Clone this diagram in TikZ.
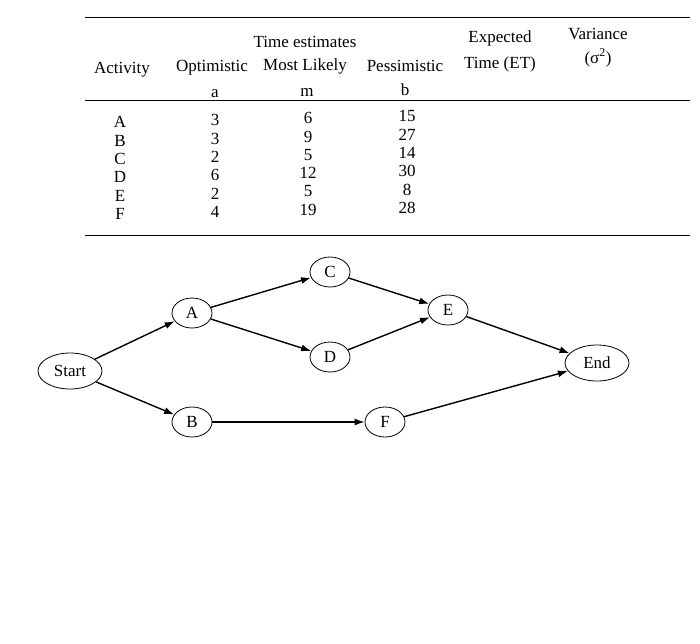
\documentclass[tikz,border=0pt]{standalone}
\usepackage{fontspec}
\setmainfont{Liberation Serif}
\usetikzlibrary{arrows.meta,shapes.geometric}
\begin{document}
\begin{tikzpicture}[x=1pt,y=-1pt,font=\fontsize{17}{19}\selectfont,
  ev/.style={draw,thick,ellipse,minimum width=40pt,minimum height=30pt,inner sep=1pt,fill=white},
  big/.style={ev,minimum width=64pt,minimum height=36pt},
  arr/.style={line width=1.4pt,-{Latex[length=10pt,width=7pt]}}]
\useasboundingbox[fill=white] (0,0) rectangle (700,643);
\draw[thick] (85,17) -- (690,17);
\draw[thick] (85,100) -- (690,100);
\draw[thick] (85,235) -- (690,235);
\node (h1) at (305,42) {Time estimates};
\node (h2) at (500,38) {Expected};
\node (h3) at (598,34) {Variance};
\node (h4) at (598,58) {(σ\textsuperscript{2})};
\node (h5) at (122,70) {Activity};
\node (h6) at (212,68) {Optimistic};
\node (h7) at (305,66) {Most Likely};
\node (h8) at (405,66) {Pessimistic};
\node (h9) at (500,64) {Time (ET)};
\node (sa) at (215,94) {a};
\node (sm) at (307,92) {m};
\node (sb) at (405,90) {b};
\foreach \l/\a/\m/\b [count=\i] in {A/3/6/15,B/3/9/27,C/2/5/14,D/6/12/30,E/2/5/8,F/4/19/28}{
  \node (r\i) at (120,104+18.3*\i) {\l};
  \node (ra\i) at (215,102+18.3*\i) {\a};
  \node (rm\i) at (308,100+18.3*\i) {\m};
  \node (rb\i) at (407,98+18.3*\i) {\b};
}
\node[big] (S) at (70,371) {Start};
\node[ev] (A) at (192,313) {A};
\node[ev] (C) at (330,272) {C};
\node[ev] (D) at (330,357) {D};
\node[ev] (E) at (448,310) {E};
\node[big] (End) at (597,363) {End};
\node[ev] (B) at (192,422) {B};
\node[ev] (F) at (385,422) {F};
\draw[arr] (S) -- (A);
\draw[arr] (S) -- (B);
\draw[arr] (A) -- (C);
\draw[arr] (A) -- (D);
\draw[arr] (C) -- (E);
\draw[arr] (D) -- (E);
\draw[arr] (E) -- (End);
\draw[arr] (B) -- (F);
\draw[arr] (F) -- (End);
\end{tikzpicture}
\end{document}
